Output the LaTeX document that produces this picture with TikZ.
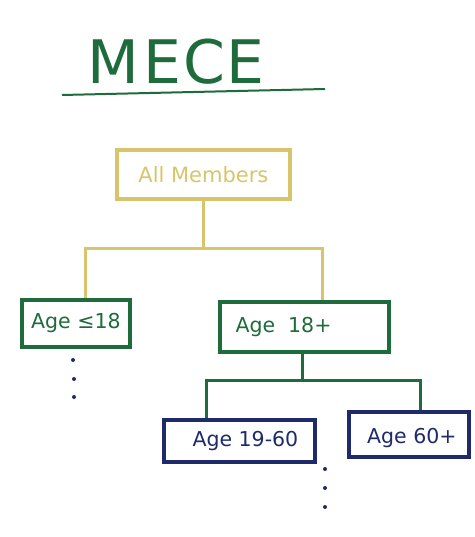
\documentclass[tikz,border=0pt]{standalone}
\usepackage{fontspec}
\setmainfont{DejaVu Sans}
\definecolor{mgreen}{HTML}{1E6B3C}
\definecolor{mgold}{HTML}{D8C56B}
\definecolor{mnavy}{HTML}{1F2A6B}
\begin{document}
\begin{tikzpicture}[x=1pt,y=-1pt,
  box/.style={draw, line width=3.8pt, inner sep=0pt, anchor=north west},
  lbl/.style={font=\fontsize{20.5}{24}\selectfont},
  conn/.style={line width=3pt},
  dot/.style={fill=mnavy, circle, inner sep=0pt, minimum size=4pt}]
\useasboundingbox[fill=white] (0,0) rectangle (474,537);
% title
\node[text=mgreen, font=\fontsize{60}{62}\selectfont, anchor=center] (title) at (176,62) {M\kern4pt E\kern2pt C\kern1pt E};
\coordinate (ul1) at (62,95);
\coordinate (ul2) at (325,89);
\draw[mgreen, line width=2pt] (ul1) -- (ul2);
% boxes
\node[box, draw=mgold, minimum width=173pt, minimum height=49pt] (all) at (115,148) {};
\node[text=mgold, font=\fontsize{21}{25}\selectfont] (allt) at (all.center) {All Members};
\node[box, draw=mgreen, minimum width=108pt, minimum height=47pt] (a18) at (20,298) {};
\node[text=mgreen, lbl] (a18t) at (a18.center) {Age ≤18};
\node[box, draw=mgreen, minimum width=169pt, minimum height=50pt] (a18p) at (218,300) {};
\node[text=mgreen, lbl, anchor=west] (a18pt) at ([xshift=14pt]a18p.west) {Age\ \ 18+};
\node[box, draw=mnavy, minimum width=151pt, minimum height=42pt] (a1960) at (162,418) {};
\node[text=mnavy, lbl] (a1960t) at ([xshift=6pt]a1960.center) {Age 19-60};
\node[box, draw=mnavy, minimum width=120pt, minimum height=45pt] (a60) at (347,410) {};
\node[text=mnavy, lbl] (a60t) at ([xshift=3pt,yshift=-4pt]a60.center) {Age 60+};
% connectors level 1
\coordinate (j1) at (all.south |- 0,248);
\coordinate (l1) at (85,248);
\coordinate (r1) at (322,248);
\draw[mgold, conn] (all.south) -- (j1);
\draw[mgold, conn] (l1 |- a18.north) -- (l1) -- (r1) -- (r1 |- a18p.north);
% connectors level 2
\coordinate (j2) at (302,380);
\coordinate (l2) at (206,380);
\coordinate (r2) at (420,380);
\draw[mgreen, conn] (j2 |- a18p.south) -- (j2);
\draw[mgreen, conn] (l2 |- a1960.north) -- (l2) -- (r2) -- (r2 |- a60.north);
% dots
\node[dot] (d1) at (73,360) {};
\node[dot] (d2) at (74,379) {};
\node[dot] (d3) at (74,397) {};
\node[dot] (d4) at (325,469) {};
\node[dot] (d5) at (325,488) {};
\node[dot] (d6) at (325,507) {};
\end{tikzpicture}
\end{document}
